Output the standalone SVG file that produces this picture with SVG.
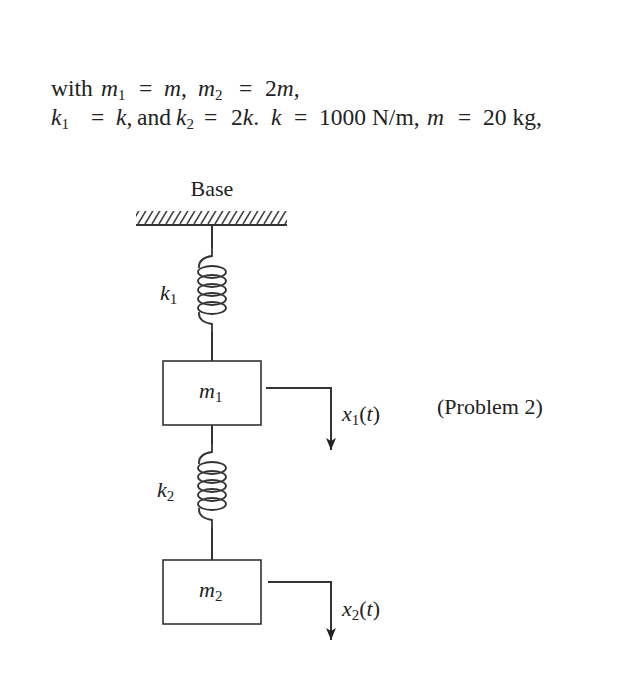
<svg xmlns="http://www.w3.org/2000/svg" width="624" height="700" viewBox="0 0 624 700">
<defs>
<style>
.t{font-family:"Liberation Serif",serif;font-size:22px;fill:#222}
.h{font-size:23.5px}
.i{font-style:italic}
.w{fill:none;stroke:#333;stroke-width:2}
.c{fill:none;stroke:#333;stroke-width:1.8}
.b{fill:#fff;stroke:#333;stroke-width:1.6}
</style>
<marker id="ah" markerWidth="12" markerHeight="10" refX="12" refY="5" orient="auto" markerUnits="userSpaceOnUse" viewBox="0 0 12 10"><path d="M0,0 L12,5 L0,10 L3,5 Z" fill="#222"/></marker>
<pattern id="hatch" width="7" height="14" patternUnits="userSpaceOnUse"><path d="M-2,14 L7,-1 M5,14 L14,-1" stroke="#444" stroke-width="1.6"/></pattern>
<g id="coil"><path class="c" d="M0,0 V8 Q-14,10 -13,20 M0,84 V76 Q-14,74 -13,64"/>
<ellipse class="c" cx="0" cy="24" rx="14" ry="6"/><ellipse class="c" cx="0" cy="33" rx="14" ry="6"/><ellipse class="c" cx="0" cy="42" rx="14" ry="6"/><ellipse class="c" cx="0" cy="51" rx="14" ry="6"/><ellipse class="c" cx="0" cy="60" rx="14" ry="6"/></g>
</defs>
<text class="t h" y="96"><tspan x="51">with</tspan><tspan x="101" class="i">m</tspan><tspan font-size="15" dy="4">1</tspan><tspan x="139" dy="-4">=</tspan><tspan x="164" class="i">m</tspan><tspan>,</tspan><tspan x="198" class="i">m</tspan><tspan font-size="15" dy="4">2</tspan><tspan x="239" dy="-4">=</tspan><tspan x="265">2</tspan><tspan class="i">m</tspan><tspan>,</tspan></text>
<text class="t h" y="125"><tspan x="51" class="i">k</tspan><tspan font-size="15" dy="4">1</tspan><tspan x="91" dy="-4">=</tspan><tspan x="116" class="i">k</tspan><tspan>,</tspan><tspan x="137">and</tspan><tspan x="176" class="i">k</tspan><tspan font-size="15" dy="4">2</tspan><tspan x="204" dy="-4">=</tspan><tspan x="231">2</tspan><tspan class="i">k</tspan><tspan>.</tspan><tspan x="271" class="i">k</tspan><tspan x="294">=</tspan><tspan x="319">1000 N/m,</tspan><tspan x="427" class="i">m</tspan><tspan x="458">=</tspan><tspan x="483">20 kg,</tspan></text>
<g id="base">
<text class="t" x="212" y="196" text-anchor="middle">Base</text>
<rect x="136" y="211" width="151" height="14" fill="url(#hatch)"/>
<line x1="136" y1="225" x2="287" y2="225" stroke="#333" stroke-width="2"/>
</g>
<g id="k1">
<path class="w" d="M212,225 V248 M212,332 V361"/>
<use href="#coil" x="212" y="248"/>
<text class="t" x="160" y="300"><tspan class="i">k</tspan><tspan font-size="15" dy="4">1</tspan></text>
</g>
<g id="m1">
<rect class="b" x="163" y="361" width="98" height="64"/>
<text class="t" x="199" y="398"><tspan class="i">m</tspan><tspan font-size="15" dy="4">1</tspan></text>
</g>
<g id="k2">
<path class="w" d="M212,425 V444 M212,528 V560"/>
<use href="#coil" x="212" y="444"/>
<text class="t" x="157" y="497"><tspan class="i">k</tspan><tspan font-size="15" dy="4">2</tspan></text>
</g>
<g id="m2">
<rect class="b" x="163" y="560" width="98" height="64"/>
<text class="t" x="199" y="597"><tspan class="i">m</tspan><tspan font-size="15" dy="4">2</tspan></text>
</g>
<g id="connectors">
<path class="w" d="M266,388 H331 V450" marker-end="url(#ah)"/>
<path class="w" d="M268,582 H331 V640" marker-end="url(#ah)"/>
</g>
<text class="t" x="342" y="421"><tspan class="i">x</tspan><tspan font-size="15" dy="4">1</tspan><tspan dy="-4">(</tspan><tspan class="i">t</tspan>)</text>
<text class="t" x="342" y="616"><tspan class="i">x</tspan><tspan font-size="15" dy="4">2</tspan><tspan dy="-4">(</tspan><tspan class="i">t</tspan>)</text>
<text class="t" x="437" y="414">(Problem 2)</text>
</svg>
